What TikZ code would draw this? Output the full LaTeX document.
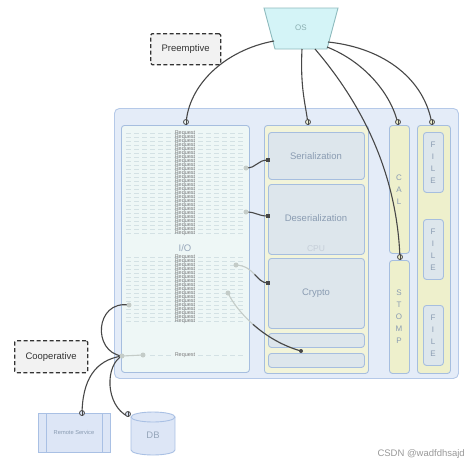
\documentclass[tikz,border=0pt]{standalone}
\usepackage{fontspec}
\setmainfont{Liberation Sans}
\definecolor{outerfill}{HTML}{E4ECF8}
\definecolor{outerdraw}{HTML}{B5C9E8}
\definecolor{iofill}{HTML}{EEF7F6}
\definecolor{boxdraw}{HTML}{A6BEDF}
\definecolor{cpufill}{HTML}{F2F4DA}
\definecolor{subfill}{HTML}{DDE6EC}
\definecolor{colfill}{HTML}{EEF0CC}
\definecolor{osfill}{HTML}{D4F4F7}
\definecolor{osdraw}{HTML}{8EBBBE}
\definecolor{txtblue}{HTML}{8A9CB2}
\definecolor{linec}{HTML}{474747}
\definecolor{lightc}{HTML}{C4CCC8}
\definecolor{dashc}{HTML}{D3E1E4}
\definecolor{reqc}{HTML}{7E7E7E}
\definecolor{extfill}{HTML}{DDE6F6}
\definecolor{extdraw}{HTML}{A9C0E4}
\definecolor{notefill}{HTML}{F2F2F2}
\tikzset{
  box/.style={draw=boxdraw, line width=0.9pt, rounded corners=3pt, inner sep=0pt, anchor=north west},
  note/.style={draw=black!80, fill=notefill, line width=1.3pt, dash pattern=on 4pt off 2.5pt,
    rounded corners=1.5pt, inner sep=0pt, font=\fontsize{9.5}{11}\selectfont, text=black!80},
  lbl/.style={text=txtblue, font=\fontsize{9.5}{11}\selectfont, inner sep=0pt},
  vtxt/.style={text=txtblue, font=\fontsize{8}{12}\selectfont, align=center, inner sep=0pt},
  conn/.style={draw=linec, line width=1.1pt},
  lconn/.style={draw=lightc, line width=1.1pt},
  ring/.style={draw=linec, line width=0.8pt, circle, inner sep=0pt, minimum size=5pt},
  sqm/.style={fill=linec, inner sep=0pt, minimum size=3.5pt},
  ldot/.style={fill=lightc, circle, inner sep=0pt, minimum size=5pt},
  reqdash/.style={draw=dashc, line width=0.45pt, dash pattern=on 5pt off 3pt},
  reqtxt/.style={text=reqc, font=\fontsize{5.5}{6}\selectfont, inner sep=0pt}
}
\begin{document}
\begin{tikzpicture}[x=1pt,y=-1pt]
\useasboundingbox (0,0) rectangle (474,467);
\fill[white] (0,0) rectangle (474,467);

% OS
\filldraw[fill=osfill, draw=osdraw, line width=0.9pt] (264,8) -- (338,8) -- (327,49) -- (275,49) -- cycle;
\node[text=osdraw!80!gray, font=\fontsize{8}{9}\selectfont, inner sep=0pt] (os) at (301,28) {OS};

% notes
\node[note, minimum width=70pt, minimum height=31pt, anchor=north west] (pre) at (150,33) {Preemptive};
\node[note, minimum width=73pt, minimum height=32pt, anchor=north west] (coop) at (14,340) {Cooperative};

% outer container
\node[box, draw=outerdraw, fill=outerfill, rounded corners=5pt, minimum width=344pt, minimum height=270pt] (outer) at (114,108) {};

% I/O
\node[box, fill=iofill, minimum width=128pt, minimum height=247pt] (io) at (121,125) {};
\foreach \i in {0,...,25} {
  \draw[reqdash] (126,{133+4*\i}) -- (245,{133+4*\i});
}
\foreach \i in {0,...,16} {
  \draw[reqdash] (126,{257+4*\i}) -- (245,{257+4*\i});
}
\draw[reqdash] (150,355) -- (245,355);
\foreach \i in {0,...,25} {
  \node[reqtxt] (rqa\i) at (185,{133+4*\i}) {Request};
}
\foreach \i in {0,...,16} {
  \node[reqtxt] (rqb\i) at (185,{257+4*\i}) {Request};
}
\node[reqtxt, fill=iofill, inner xsep=1pt] (rqc) at (185,355) {Request};
\node[lbl, text=txtblue!90] (iolbl) at (185,248) {I/O};

% CPU
\node[box, fill=cpufill, minimum width=104pt, minimum height=248pt] (cpu) at (264,125) {};
\node[box, fill=subfill, minimum width=96pt, minimum height=47pt] (ser) at (268,132) {};
\node[box, fill=subfill, minimum width=96pt, minimum height=70pt] (des) at (268,184) {};
\node[box, fill=subfill, minimum width=96pt, minimum height=70pt] (cry) at (268,258) {};
\node[box, fill=subfill, minimum width=96pt, minimum height=14pt] (sb1) at (268,333) {};
\node[box, fill=subfill, minimum width=96pt, minimum height=14pt] (sb2) at (268,353) {};
\node[lbl] (serl) at (316,156) {Serialization};
\node[lbl] (desl) at (316,218) {Deserialization};
\node[lbl] (cryl) at (316,293) {Crypto};
\node[lbl, text=txtblue!50, font=\fontsize{8.5}{10}\selectfont] (cpul) at (316,249) {CPU};

% CAL / STOMP / FILE
\node[box, fill=colfill, minimum width=20pt, minimum height=128pt] (cal) at (389,125) {};
\node[box, fill=colfill, minimum width=20pt, minimum height=113pt] (stomp) at (389,260) {};
\node[box, fill=colfill, minimum width=33pt, minimum height=248pt] (filecol) at (417,125) {};
\node[box, fill=subfill, minimum width=20pt, minimum height=60pt] (f1) at (423,132) {};
\node[box, fill=subfill, minimum width=20pt, minimum height=60pt] (f2) at (423,219) {};
\node[box, fill=subfill, minimum width=20pt, minimum height=60pt] (f3) at (423,305) {};
\node[vtxt] (call) at (399,190) {C\\A\\L};
\node[vtxt] (stompl) at (399,316.5) {S\\T\\O\\M\\P};
\node[vtxt] (f1l) at (433,163) {F\\I\\L\\E};
\node[vtxt] (f2l) at (433,250) {F\\I\\L\\E};
\node[vtxt] (f3l) at (433,336) {F\\I\\L\\E};

% Remote service
\node[draw=extdraw, fill=extfill, line width=0.9pt, minimum width=72pt, minimum height=39pt, inner sep=0pt, anchor=north west] (rs) at (38,413) {};
\draw[extdraw, line width=0.9pt] (46,413) -- (46,452) (102,413) -- (102,452);
\node[text=txtblue, font=\fontsize{5.7}{7}\selectfont, inner sep=0pt] (rsl) at (74,432.5) {Remote Service};

% DB cylinder
\fill[extfill] (131,417) rectangle (175,450);
\fill[extfill] (153,450) ellipse [x radius=22, y radius=5];
\draw[extdraw, line width=0.9pt] (131,417) -- (131,450) arc[start angle=180, end angle=0, x radius=22, y radius=5] -- (175,417);
\draw[extdraw, line width=0.9pt, fill=extfill] (153,417) ellipse [x radius=22, y radius=5];
\node[text=txtblue!90, font=\fontsize{9.5}{11}\selectfont, inner sep=0pt] (db) at (153,435) {DB};

% endpoints
\coordinate (osA) at (274,41);
\coordinate (osB) at (302,49);
\coordinate (osC) at (315,49);
\coordinate (osD) at (327,47);
\coordinate (osE) at (328,42);
\coordinate (ioTop) at (186,124.5);
\coordinate (cpuTop) at (308,124.5);
\coordinate (stTop) at (400,259.5);
\coordinate (calTop) at (398,124.5);
\coordinate (fileTop) at (432,124.5);

% OS connectors
\draw[conn] (osA) .. controls (225,50) and (188,85) .. (ioTop);
\draw[conn] (osB) .. controls (300,90) and (306,105) .. (cpuTop);
\draw[conn] (osC) .. controls (350,90) and (397,160) .. (stTop);
\draw[conn] (osD) .. controls (365,62) and (392,95) .. (calTop);
\draw[conn] (osE) .. controls (385,48) and (425,80) .. (fileTop);
\node[ring, fill=iofill] (m1) at (186,122) {};
\node[ring, fill=cpufill] (m2) at (308,122) {};
\node[ring, fill=colfill] (m3) at (400,257) {};
\node[ring, fill=colfill] (m4) at (398,122) {};
\node[ring, fill=colfill] (m5) at (432,122) {};
\draw[linec, line width=0.8pt] (186,119.5) -- (186,124.5) (308,119.5) -- (308,124.5) (400,254.5) -- (400,259.5) (398,119.5) -- (398,124.5) (432,119.5) -- (432,124.5);

% I/O -> CPU connectors
\coordinate (d1) at (246,168);
\coordinate (d2) at (246,212);
\coordinate (d3) at (236,265);
\coordinate (d4) at (228,293);
\coordinate (e1) at (268,160);
\coordinate (e2) at (268,216);
\coordinate (e3) at (268,283);
\coordinate (e4) at (301,351);
\draw[conn] (d1) .. controls (257,168) and (257,160) .. (e1);
\draw[conn] (d2) .. controls (257,212) and (257,216) .. (e2);
\draw[lconn] (d3) .. controls (255,266) and (256,283) .. (e3);
\draw[conn] (254.6,274.4) .. controls (258.75,278.75) and (262,283) .. (e3);
\draw[lconn] (d4) .. controls (236,310) and (262,340) .. (e4);
\draw[conn] (252.9,324.25) .. controls (265.25,335.25) and (281.5,345.5) .. (e4);
\node[ldot] (dd1) at (d1) {};
\node[ldot] (dd2) at (d2) {};
\node[ldot] (dd3) at (d3) {};
\node[ldot] (dd4) at (d4) {};
\node[sqm] (se1) at (e1) {};
\node[sqm] (se2) at (e2) {};
\node[sqm] (se3) at (e3) {};
\node[sqm, circle, minimum size=4pt] (se4) at (e4) {};

% left side connectors
\coordinate (lp) at (129,305);
\coordinate (hub) at (122,356);
\coordinate (rq) at (143,355);
\coordinate (rsTop) at (82,415.5);
\coordinate (dbTop) at (128,416.5);
\draw[conn] (lp) .. controls (95,300) and (92,352) .. (hub);
\draw[lconn] (hub) -- (rq);
\draw[conn] (hub) .. controls (95,360) and (82,380) .. (rsTop);
\draw[conn] (hub) .. controls (105,365) and (105,405) .. (dbTop);
\node[ldot] (lpd) at (lp) {};
\node[ldot] (hubd) at (hub) {};
\node[ldot] (rqd) at (rq) {};
\node[ring, fill=extfill] (m6) at (82,413) {};
\node[ring, fill=extfill] (m7) at (128,414) {};
\draw[linec, line width=0.8pt] (82,410.5) -- (82,415.5) (128,411.5) -- (128,416.5);

% watermark
\node[text=black!40, font=\fontsize{9.5}{11}\selectfont, inner sep=0pt, anchor=east] (wm) at (465,454) {CSDN @wadfdhsajd};
\end{tikzpicture}
\end{document}
